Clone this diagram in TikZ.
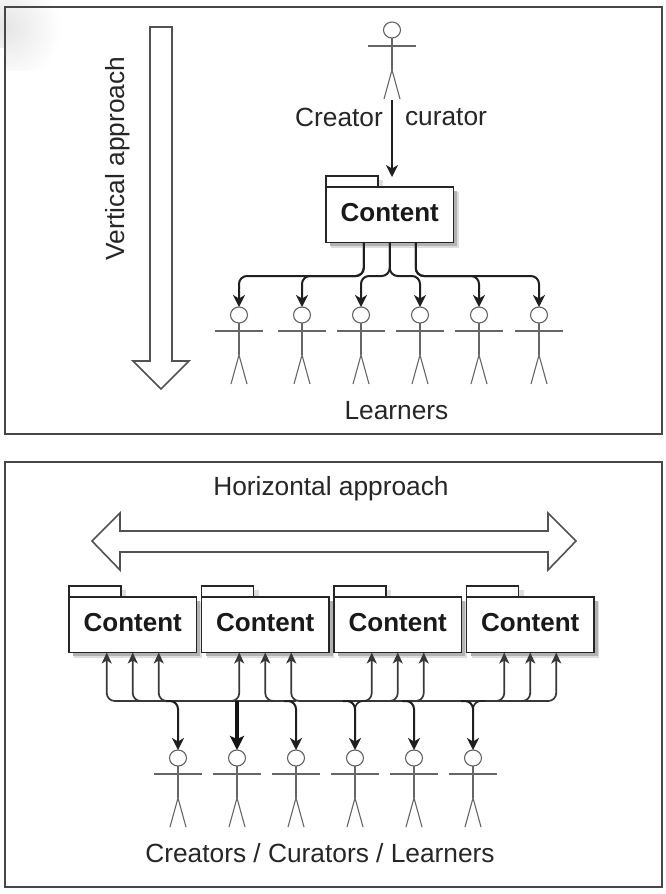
\documentclass[tikz,border=0pt]{standalone}
\usepackage{fontspec}
\setmainfont{Liberation Sans}
\usetikzlibrary{arrows.meta,calc,shapes.geometric}
\newcommand{\personfig}[3]{% name, x, head y
  \node[headshape] (#1) at (#2,#3) {};
  \draw[stick] (#1.south) -- ++(0,32) coordinate (#1h);
  \draw[stick] ($(#1.south)+(-24,8)$) -- ++(48,0);
  \draw[stick] ($(#1h)+(-8,29)$) -- (#1h) -- ($(#1h)+(8,29)$);
}
\newcommand{\pkg}[3]{% name, left x, top y of body
  \fill[shadowsoft] (#2+40,#3-7) rectangle (#2+57,#3+4);
  \fill[shadowsoft] (#2+5,#3+5) rectangle (#2+132.5,#3+60.5);
  \fill[shadowgray] (#2+4,#3+4) rectangle (#2+131,#3+58.5);
  \node[tabshape,anchor=south west] (#1tab) at (#2,#3) {};
  \node[pkgshape,anchor=north west] (#1) at (#2,#3) {Content};
}
\definecolor{shadowgray}{gray}{0.70}
\definecolor{shadowsoft}{gray}{0.87}
\tikzset{
  x=1pt,y=-1pt,
  frameshape/.style={draw=black!72,line width=1.8pt,outer sep=0pt},
  pkgshape/.style={draw=black!85,line width=1.8pt,fill=white,outer sep=0pt,minimum width=127.5pt,minimum height=55.5pt,inner sep=0pt,text height=18pt,text depth=5pt,font=\fontsize{26}{30}\selectfont\bfseries,text=black!90},
  tabshape/.style={draw=black!85,line width=1.6pt,fill=white,outer sep=0pt,minimum width=52pt,minimum height=11pt,inner sep=0pt},
  headshape/.style={draw=black!62,line width=1.1pt,ellipse,fill=white,outer sep=0pt,minimum width=17pt,minimum height=16pt,inner sep=0pt},
  stick/.style={draw=black!60,line width=1.1pt},
  conn/.style={draw=black!88,line width=2pt,rounded corners=8pt,-{Stealth[length=12pt,width=12pt,inset=3.5pt]}},
  bigconn/.style={draw=black!92,line width=3.2pt,rounded corners=8pt,-{Stealth[length=14pt,width=14pt,inset=3pt]}},
  joinline/.style={draw=black!85,line width=1.6pt,rounded corners=8pt},
  connup/.style={draw=black!78,line width=1.7pt,rounded corners=8pt,{Stealth[length=11pt,width=10pt,inset=3pt]}-},
  lbl/.style={font=\fontsize{26.3}{30}\selectfont,text=black!85,inner sep=0pt},
  fatarrow/.style={draw=black!68,line width=1.6pt,fill=white,line join=miter},
}
\begin{document}
\begin{tikzpicture}
\useasboundingbox (0,0) rectangle (666,894);
\fill[white] (0,0) rectangle (666,894);
\begin{scope}
\clip (0,0) rectangle (60,70);
\shade[inner color=black!10,outer color=white] (6,28) circle[radius=55pt];
\end{scope}
\fill[white] (0,48) rectangle (4,80);
\node[frameshape,minimum width=657pt,minimum height=427pt,anchor=north west] (panelA) at (5,7) {};
\node[frameshape,minimum width=657pt,minimum height=425pt,anchor=north west] (panelB) at (5,462) {};
% vertical approach
\draw[fatarrow] (150,27) -- (172,27) -- (172,361) -- (189,361) -- (161,389) -- (133,361) -- (150,361) -- cycle;
\node[lbl,rotate=90] (vlabel) at (118,158.5) {Vertical approach};
% top person
\personfig{curator}{392}{30}
\node[lbl] (lc1) at (339,117) {Creator};
\node[lbl] (lc2) at (446,117) {curator};
\coordinate (hip) at (392,100);
% top content
\pkg{top}{326}{187}
\coordinate (topin) at (392,177);
\draw[conn,line width=1.6pt] (hip) -- (topin);
\coordinate (busA) at (0,276);
\foreach \n/\x in {a1/239,a2/302,a3/361,a4/420,a5/479,a6/539}{\personfig{\n}{\x}{315}}
\foreach \t/\off in {a1/-26,a2/-26,a3/0,a4/0,a5/26,a6/26}{
  \draw[conn] ([xshift=\off pt]top.south) -- ([xshift=\off pt]top.south |- busA) -- (\t.north |- busA) -- (\t.north);
}
\node[lbl] (learn) at (396.5,411) {Learners};
% horizontal approach
\node[lbl] (hlabel) at (331,489) {Horizontal approach};
\draw[fatarrow] (120,531) -- (548,531) -- (548,513) -- (576,541) -- (548,570) -- (548,552) -- (120,552) -- (120,570) -- (92,541) -- (120,513) -- cycle;
\pkg{c1}{69}{597}
\pkg{c2}{201.5}{597}
\pkg{c3}{334}{597}
\pkg{c4}{466.5}{597}
\coordinate (busB) at (0,701);
\foreach \n/\x in {b1/178,b2/237,b3/296,b4/355,b5/414,b6/473}{\personfig{\n}{\x}{758}}
\foreach \c/\off/\p in {c1/-26/b3,c1/0/b1,c1/26/b1,c2/-26/b2,c2/0/b3,c2/26/b4,c3/-26/b4,c3/0/b4,c3/26/b5,c4/-26/b6,c4/0/b5,c4/26/b4}{
  \draw[connup] ([xshift=\off pt]\c.south) -- ([xshift=\off pt]\c.south |- busB) -- (\p.north |- busB);
}
\foreach \p in {b1,b3,b5}{
  \draw[conn] ([xshift=-12pt]\p.north |- busB) -- (\p.north |- busB) -- (\p.north);
}
\foreach \p in {b4,b6}{
  \draw[joinline] ([xshift=12pt]\p.north |- busB) -- (\p.north |- busB) -- ([yshift=-14pt]\p.north |- busB);
  \draw[conn] ([xshift=-12pt]\p.north |- busB) -- (\p.north |- busB) -- (\p.north);
}
\draw[bigconn] (b2.north |- busB) -- (b2.north);
\node[lbl] (all) at (320,853) {Creators / Curators / Learners};
\end{tikzpicture}
\end{document}
